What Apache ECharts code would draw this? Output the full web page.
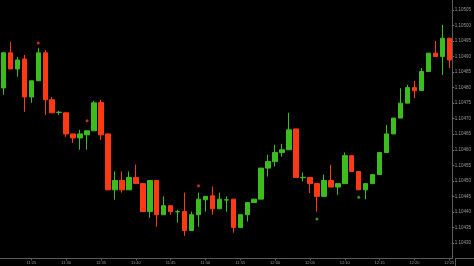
<!DOCTYPE html>
<html>
<head>
<meta charset="utf-8">
<script src="https://cdn.jsdelivr.net/npm/echarts@6/dist/echarts.min.js"></script>
<style>
html,body{margin:0;padding:0;background:#000;}
#c{width:474px;height:266px;}
</style>
</head>
<body>
<div id="c"></div>
<script>
// minute bars 11:21 .. 12:25
const times = [];
for (let m = 21; m <= 85; m++) {
  const h = 11 + Math.floor(m / 60), mm = m % 60;
  times.push(h + ':' + String(mm).padStart(2, '0'));
}
const opens = [
  1.104799, 1.104912, 1.104860, 1.104892, 1.104770, 1.104822, 1.104912, 1.104761, 1.104720, 1.104719,
  1.104651, 1.104638, 1.104648, 1.104661, 1.104752, 1.104651, 1.104471, 1.104501, 1.104471, 1.104511,
  1.104491, 1.104401, 1.104501, 1.104391, 1.104420, 1.104400, 1.104401, 1.104340, 1.104391, 1.104439,
  1.104452, 1.104410, 1.104438, 1.104441, 1.104350, 1.104391, 1.104430, 1.104441, 1.104541, 1.104562,
  1.104591, 1.104600, 1.104667, 1.104510, 1.104511, 1.104491, 1.104450, 1.104501, 1.104480, 1.104491,
  1.104581, 1.104530, 1.104471, 1.104491, 1.104520, 1.104591, 1.104651, 1.104702, 1.104750, 1.104800,
  1.104791, 1.104852, 1.104911, 1.104900, 1.104959
];
const closes = [
  1.104912, 1.104860, 1.104889, 1.104770, 1.104822, 1.104912, 1.104761, 1.104719, 1.104721, 1.104651,
  1.104638, 1.104651, 1.104661, 1.104751, 1.104648, 1.104471, 1.104501, 1.104471, 1.104511, 1.104491,
  1.104401, 1.104501, 1.104391, 1.104420, 1.104401, 1.104401, 1.104340, 1.104391, 1.104441, 1.104450,
  1.104410, 1.104441, 1.104439, 1.104350, 1.104391, 1.104430, 1.104441, 1.104541, 1.104562, 1.104591,
  1.104600, 1.104664, 1.104511, 1.104511, 1.104491, 1.104450, 1.104501, 1.104480, 1.104491, 1.104581,
  1.104530, 1.104471, 1.104491, 1.104520, 1.104591, 1.104651, 1.104702, 1.104750, 1.104800, 1.104790,
  1.104852, 1.104911, 1.104900, 1.104959, 1.104889
];
const lows = [
  1.104777, 1.104860, 1.104835, 1.104722, 1.104751, 1.104822, 1.104712, 1.104719, 1.104712, 1.104642,
  1.104622, 1.104600, 1.104600, 1.104661, 1.104632, 1.104471, 1.104439, 1.104462, 1.104471, 1.104491,
  1.104401, 1.104381, 1.104352, 1.104391, 1.104391, 1.104365, 1.104323, 1.104340, 1.104352, 1.104401,
  1.104391, 1.104410, 1.104401, 1.104333, 1.104350, 1.104369, 1.104430, 1.104441, 1.104514, 1.104546,
  1.104578, 1.104600, 1.104511, 1.104498, 1.104461, 1.104401, 1.104450, 1.104480, 1.104455, 1.104491,
  1.104530, 1.104471, 1.104441, 1.104491, 1.104520, 1.104591, 1.104651, 1.104702, 1.104750, 1.104766,
  1.104791, 1.104852, 1.104900, 1.104841, 1.104863
];
const highs = [
  1.104915, 1.104947, 1.104899, 1.104905, 1.104822, 1.104928, 1.104921, 1.104770, 1.104725, 1.104719,
  1.104651, 1.104664, 1.104661, 1.104757, 1.104761, 1.104651, 1.104530, 1.104530, 1.104530, 1.104552,
  1.104491, 1.104501, 1.104501, 1.104450, 1.104420, 1.104407, 1.104462, 1.104401, 1.104462, 1.104450,
  1.104482, 1.104462, 1.104450, 1.104441, 1.104391, 1.104430, 1.104441, 1.104541, 1.104584, 1.104616,
  1.104619, 1.104719, 1.104667, 1.104527, 1.104511, 1.104491, 1.104520, 1.104552, 1.104491, 1.104591,
  1.104581, 1.104530, 1.104491, 1.104520, 1.104591, 1.104680, 1.104702, 1.104798, 1.104809, 1.104822,
  1.104863, 1.104911, 1.104950, 1.105002, 1.104959
];
const redDotTimes = ['11:26', '11:33', '11:49'];
const redDotValues = [1.104944, 1.104693, 1.104484];
const greenDotTimes = ['12:06', '12:12'];
const greenDotValues = [1.104377, 1.104447];
const yMin = 1.10425, yMax = 1.105082, yStep = 0.00005;

const UP = '#3bbd1e', DOWN = '#ff3a12';
const candleData = times.map((t, i) => [opens[i], closes[i], lows[i], highs[i]]);
const isFive = (v) => Number(v.split(':')[1]) % 5 === 0;

const chart = echarts.init(document.getElementById('c'), null, {renderer: 'canvas'});
chart.setOption({
  animation: false,
  backgroundColor: '#000',
  grid: {left: -3.77, width: 458.9, top: 0, bottom: 7.5, containLabel: false},
  xAxis: {
    type: 'category',
    data: times,
    boundaryGap: true,
    axisLine: {lineStyle: {color: '#5a5a5a', width: 1}},
    axisTick: {show: true, alignWithLabel: true, length: 2, interval: (i, v) => isFive(v), lineStyle: {color: '#5a5a5a'}},
    axisLabel: {interval: (i, v) => isFive(v), color: '#9a9a9a', fontSize: 4, fontFamily: 'Liberation Sans', margin: 2.5},
    splitLine: {show: false}
  },
  yAxis: {
    type: 'value',
    position: 'right',
    min: yMin, max: yMax, interval: yStep,
    axisLine: {show: true, lineStyle: {color: '#5a5a5a', width: 1}},
    axisTick: {show: true, length: 1.5, lineStyle: {color: '#777'}},
    axisLabel: {color: '#9a9a9a', fontSize: 4.5, fontFamily: 'Liberation Sans', margin: 2,
      showMinLabel: false, showMaxLabel: false, formatter: v => v.toFixed(5)},
    splitLine: {show: false}
  },
  series: [
    {
      type: 'candlestick',
      data: candleData,
      barWidth: 5,
      itemStyle: {color: UP, color0: DOWN, borderColor: UP, borderColor0: DOWN, borderWidth: 1}
    },
    {
      type: 'scatter', symbolSize: 3,
      data: redDotTimes.map((t, i) => [t, redDotValues[i]]),
      itemStyle: {color: DOWN}
    },
    {
      type: 'scatter', symbolSize: 3,
      data: greenDotTimes.map((t, i) => [t, greenDotValues[i]]),
      itemStyle: {color: UP}
    }
  ],
  graphic: [
    {type: 'line', shape: {x1: 455, y1: 258.5, x2: 474, y2: 258.5}, style: {stroke: '#5a5a5a', lineWidth: 1}},
    {type: 'line', shape: {x1: 455.5, y1: 258.5, x2: 455.5, y2: 266}, style: {stroke: '#5a5a5a', lineWidth: 1}}
  ]
});
</script>
</body>
</html>
